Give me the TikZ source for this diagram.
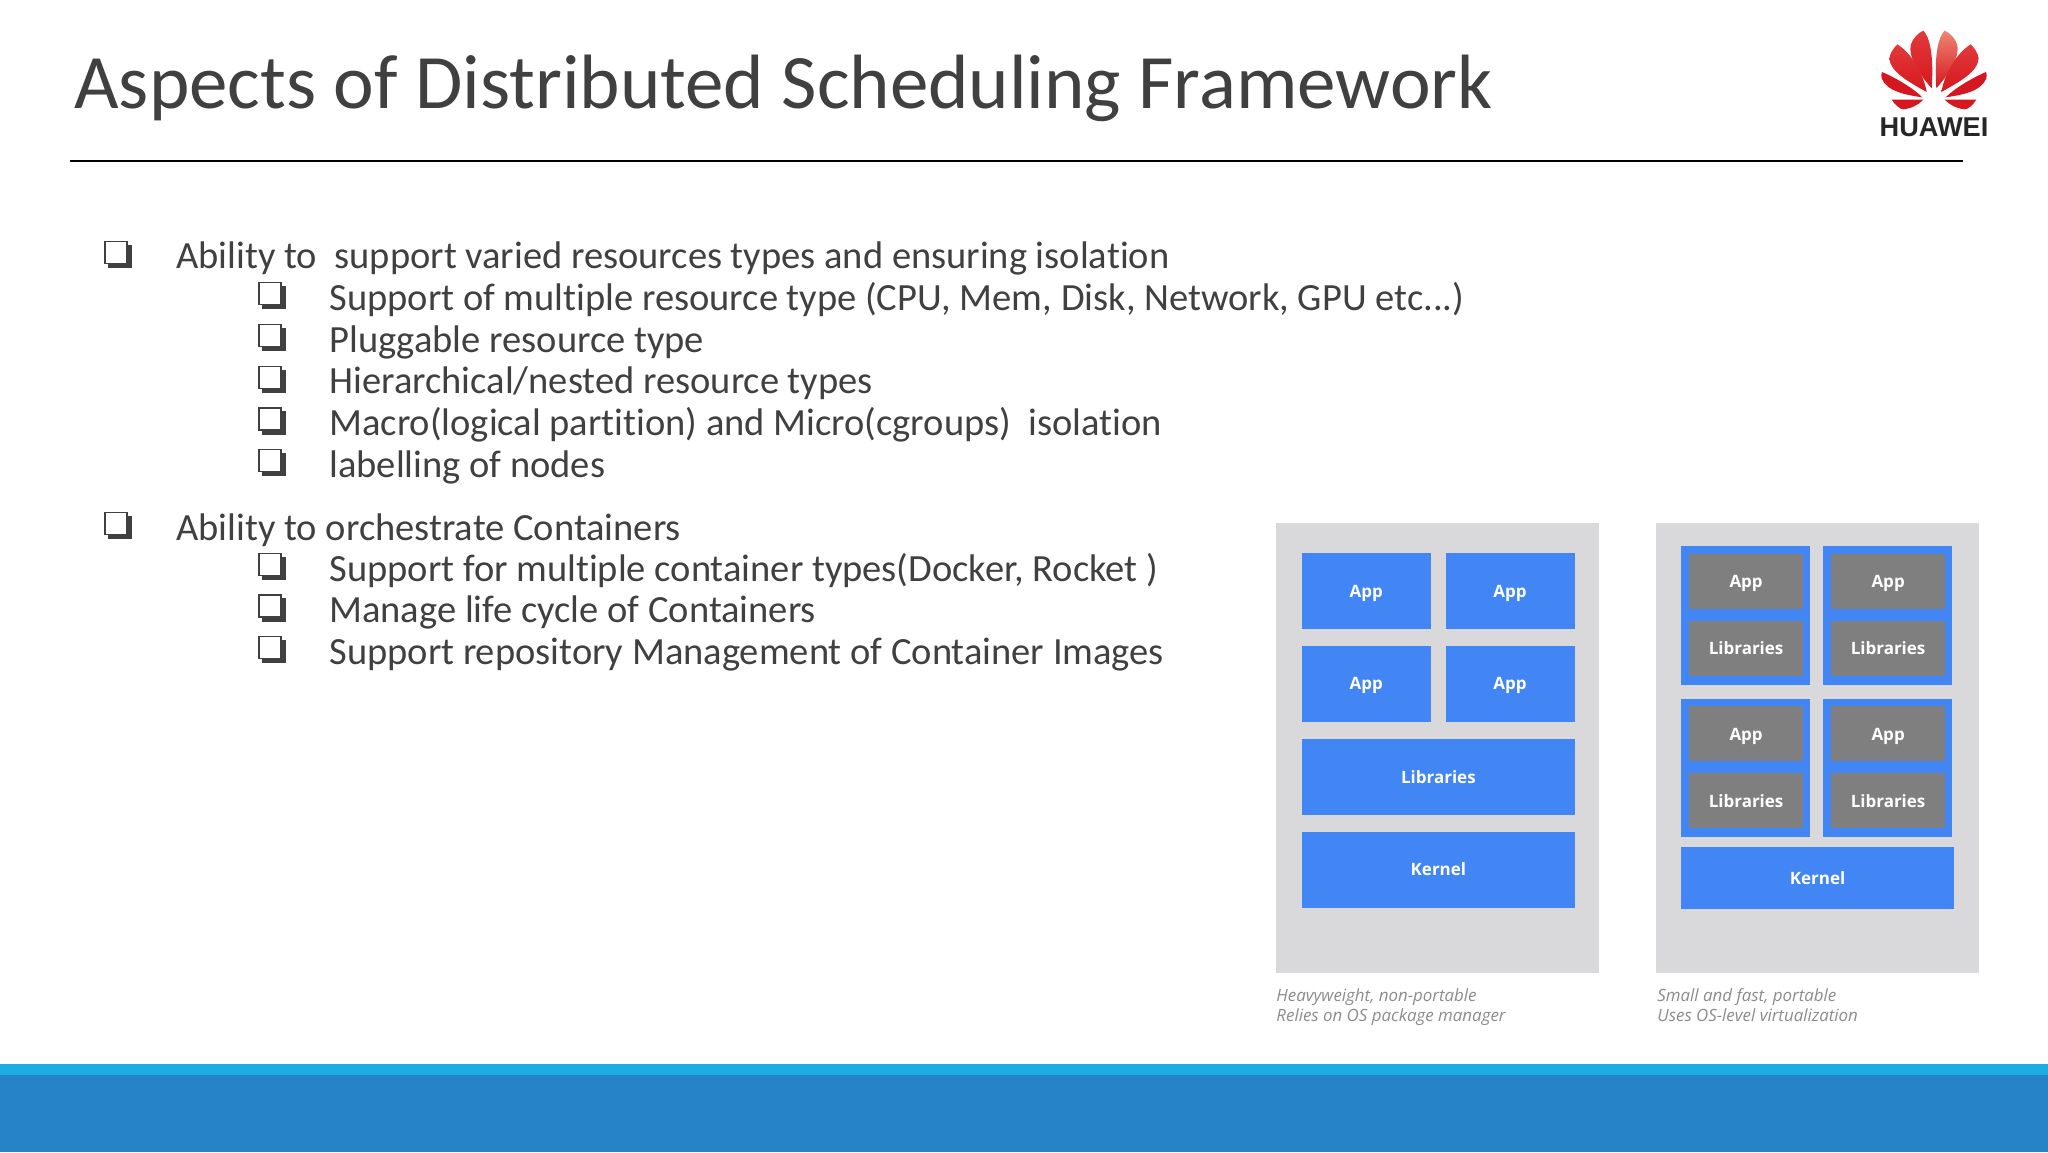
\documentclass[tikz,border=0pt]{standalone}
\usepackage{fontspec}
\setmainfont{Carlito}[Ligatures=NoCommon]
\newfontfamily\labelfont{Open Sans}
\newfontfamily\logofont{Liberation Sans}
\usetikzlibrary{shadows}
\definecolor{textgray}{HTML}{404040}
\definecolor{panelgray}{HTML}{D9D9DB}
\definecolor{boxblue}{HTML}{4285F4}
\definecolor{boxgray}{HTML}{7F7F7F}
\definecolor{captiongray}{HTML}{8C8C8C}
\definecolor{bandlight}{HTML}{1CADE4}
\definecolor{banddark}{HTML}{2683C6}
\definecolor{petalred}{HTML}{D5181F}
\definecolor{petaltop}{HTML}{E23A3C}
\definecolor{petalpale}{HTML}{EE8672}
\tikzset{
	mainitem/.style={anchor=base west,inner sep=0pt,text=textgray,font=\fontsize{19.25}{22}\selectfont},
	bulletbox/.style={draw=textgray,line width=0.6pt,fill=white,inner sep=0pt,minimum size=11pt,
		copy shadow={shadow xshift=2pt,shadow yshift=-2pt,fill=textgray,draw=textgray}},
	panel/.style={fill=panelgray,draw=none,inner sep=0pt,minimum width=161.5pt,minimum height=225pt},
	blockbase/.style={draw=none,inner sep=0pt,text=white,text height=6.4pt,text depth=0pt,font=\labelfont\bfseries\fontsize{8.5}{10}\selectfont},
	appbox/.style={blockbase,fill=boxblue,minimum width=64.5pt,minimum height=38pt},
	widebox/.style={blockbase,fill=boxblue,minimum width=136.25pt,minimum height=38pt},
	holder/.style={blockbase,fill=boxblue,minimum width=64.6pt,minimum height=69.3pt},
	innerbox/.style={blockbase,fill=boxgray,minimum width=56.8pt,minimum height=27.5pt},
	caption/.style={anchor=north west,inner sep=0pt,align=left,text=captiongray,
		font=\labelfont\itshape\fontsize{8.45}{10}\selectfont},
}
\begin{document}
\begin{tikzpicture}[x=0.5pt,y=-0.5pt]
	\useasboundingbox (0,0) rectangle (2048,1152);
	\fill[white] (0,0) rectangle (2048,1152);

	% title
	\node[mainitem,font=\fontsize{38.5}{44}\selectfont] (title) at (74,108.5) {Aspects of Distributed Scheduling Framework};
	\coordinate (ruleL) at (70,161);
	\coordinate (ruleR) at (1963,161);
	\draw[line width=0.8pt,black] (ruleL) -- (ruleR);

	% logo
	\begin{scope}[shift={(1840,10)},x=0.5pt/3,y=-0.5pt/3]
		\foreach \mirror/\tipcolor in {1/petaltop,-1/petalpale}{
			\begin{scope}[shift={(282,0)},xscale=\mirror,shift={(-282,0)}]
				\shade[top color=\tipcolor,bottom color=petalred] (275,235) .. controls (235,190) and (205,140) .. (212,105) .. controls (218,85) and (235,68) .. (250,62) .. controls (268,80) and (282,130) .. cycle;
				\shade[top color=petaltop,bottom color=petalred] (260,246) .. controls (205,215) and (150,185) .. (148,145) .. controls (150,130) and (160,115) .. (172,103) .. controls (215,130) and (250,190) .. cycle;
				\fill[petalred] (247,262) .. controls (200,255) and (140,245) .. (125,205) .. controls (123,197) and (124,192) .. (126,186) .. controls (170,205) and (220,235) .. cycle;
				\fill[petalred] (250,269) -- (155,269) .. controls (165,285) and (180,298) .. (190,298) .. controls (215,295) and (235,285) .. cycle;
			\end{scope}
		}
		\node[inner sep=0pt,text=black!85,font=\logofont\bfseries\fontsize{13.6}{16}\selectfont] (logotext) at (282,352) {HUAWEI};
	\end{scope}

	% bullet lists
	\foreach \name/\ypos/\txt in {ability/268.7/{Ability to\ \ support varied resources types and ensuring isolation},orchestrate/540/{Ability to orchestrate Containers}}{
		\node[bulletbox] (box\name) at (116,\ypos-16.5) {};
		\node[mainitem] (\name) at (176,\ypos) {\txt};
	}
	\foreach \name/\ypos/\txt in {
		sub1/310.3/{Support of multiple resource type (CPU, Mem, Disk, Network, GPU etc.{}.{}.)},
		sub2/352/{Pluggable resource type},
		sub3/393.7/{Hierarchical/nested resource types},
		sub4/435.5/{Macro(logical partition) and Micro(cgroups)\ \ isolation},
		sub5/477/{labelling of nodes},
		sub6/581/{Support for multiple container types(Docker, Rocket )},
		sub7/622.5/{Manage life cycle of Containers},
		sub8/664/{Support repository Management of Container Images}}{
		\node[bulletbox] (box\name) at (270,\ypos-16.5) {};
		\node[mainitem] (\name) at (329,\ypos) {\txt};
	}

	% left panel
	\node[panel] (vmpanel) at (1437,748.3) {};
	\node[appbox] (app1) at (1366.3,590.7) {App};
	\node[appbox] (app2) at (1510,590.7) {App};
	\node[appbox] (app3) at (1366.3,683.5) {App};
	\node[appbox] (app4) at (1510,683.5) {App};
	\node[widebox] (libs) at (1438.4,776.7) {Libraries};
	\node[widebox] (kernel) at (1438.4,869.5) {Kernel};
	\node[caption] (vmcaption) at (1276,988.6) {Heavyweight, non-portable\\Relies on OS package manager};

	% right panel
	\node[panel] (ctpanel) at (1817.5,748.3) {};
	\foreach \n/\xpos/\ypos in {1/1745.6/615.3,2/1887.6/615.3,3/1745.6/767.8,4/1887.6/767.8}{
		\node[holder] (holder\n) at (\xpos,\ypos) {};
		\node[innerbox] (ctapp\n) at (\xpos+0.5,\ypos-34.2) {App};
		\node[innerbox] (ctlibs\n) at (\xpos+0.5,\ypos+33) {Libraries};
	}
	\node[widebox,minimum height=31.3pt] (ctkernel) at (1817.5,878) {Kernel};
	\node[caption] (ctcaption) at (1657,988.6) {Small and fast, portable\\Uses OS-level virtualization};

	% bottom band
	\fill[bandlight] (0,1064) rectangle (2048,1075);
	\fill[banddark] (0,1075) rectangle (2048,1152);
\end{tikzpicture}
\end{document}
